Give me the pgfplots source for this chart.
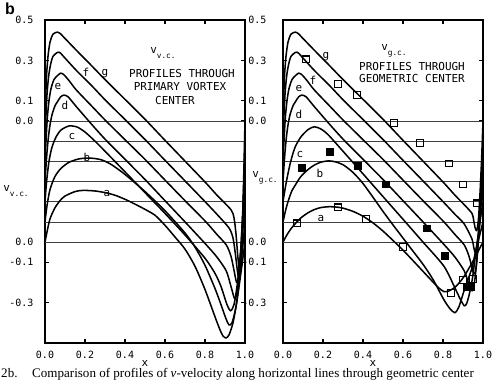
\documentclass[border=0pt]{standalone}
\usepackage{pgfplots}
\pgfplotsset{compat=1.18}
\usepackage{pgfplotstable}
\usepackage{fontspec}
\setmainfont{Liberation Serif}
\newfontfamily\plotfont{DejaVu Sans Mono}
\newfontfamily\labfont{Liberation Sans}
\newcommand\sub[1]{\raisebox{-3.6pt}{\fontsize{5.6}{6}\selectfont #1}}

% ---------- left panel: profiles through primary vortex center ----------
\pgfplotstableread{
x v
0 0
0.01 0.05
0.025 0.115
0.05 0.17
0.075 0.205
0.1 0.228
0.15 0.25
0.19 0.256
0.25 0.253
0.3 0.245
0.35 0.232
0.4 0.212
0.45 0.188
0.5 0.162
0.55 0.133
0.6 0.083
0.65 0.025
0.7 -0.035
0.75 -0.12
0.8 -0.235
0.85 -0.37
0.875 -0.435
0.89 -0.465
0.905 -0.475
0.92 -0.46
0.94 -0.4
0.96 -0.29
0.98 -0.15
1 0
}\LA
\pgfplotstableread{
x v
0 0
0.01 0.08
0.025 0.16
0.05 0.225
0.08 0.265
0.12 0.295
0.17 0.312
0.225 0.316
0.28 0.308
0.33 0.285
0.4 0.235
0.5 0.15
0.6 0.055
0.7 -0.055
0.75 -0.125
0.8 -0.215
0.85 -0.33
0.88 -0.41
0.905 -0.48
0.92 -0.51
0.935 -0.5
0.955 -0.42
0.975 -0.26
0.99 -0.11
1 0
}\LB
\pgfplotstableread{
x v
0 0
0.008 0.1
0.02 0.2
0.035 0.27
0.055 0.32
0.08 0.355
0.12 0.375
0.16 0.37
0.2 0.345
0.25 0.3
0.3 0.25
0.4 0.148
0.5 0.045
0.6 -0.058
0.7 -0.165
0.8 -0.28
0.85 -0.355
0.88 -0.42
0.91 -0.51
0.928 -0.54
0.945 -0.51
0.96 -0.42
0.975 -0.29
0.99 -0.13
1 0
}\LC
\pgfplotstableread{
x v
0 0
0.008 0.12
0.016 0.21
0.025 0.28
0.035 0.33
0.05 0.375
0.0625 0.3956
0.0781 0.4191
0.0938 0.4277
0.115 0.42
0.1563 0.3712
0.2344 0.2819
0.3 0.21
0.4 0.11
0.5 0.01
0.6 -0.095
0.7 -0.2
0.8047 -0.3118
0.8594 -0.374
0.9063 -0.443
0.93 -0.52
0.948 -0.58
0.96 -0.55
0.97 -0.46
0.98 -0.32
0.99 -0.16
1 0
}\LD
\pgfplotstableread{
x v
0 0
0.006 0.12
0.012 0.22
0.02 0.3
0.03 0.36
0.045 0.405
0.0625 0.4245
0.0781 0.4365
0.0938 0.4295
0.12 0.4
0.1563 0.3537
0.2344 0.2728
0.3 0.205
0.4 0.107
0.5 0.0095
0.6 -0.093
0.7 -0.195
0.8047 -0.3002
0.8594 -0.3621
0.9063 -0.414
0.93 -0.47
0.945 -0.54
0.958 -0.6
0.968 -0.58
0.98 -0.42
0.99 -0.22
1 0
}\LE
\pgfplotstableread{
x v
0 0
0.005 0.13
0.01 0.23
0.018 0.32
0.028 0.38
0.04 0.42
0.0625 0.4398
0.0703 0.4403
0.0781 0.4356
0.0938 0.4182
0.1563 0.3506
0.2344 0.2735
0.3 0.205
0.4 0.107
0.5 0.0082
0.6 -0.095
0.7 -0.197
0.8047 -0.3045
0.8594 -0.3621
0.92 -0.43
0.94 -0.48
0.952 -0.56
0.963 -0.65
0.972 -0.68
0.983 -0.52
0.992 -0.28
1 0
}\LF
\pgfplotstableread{
x v
0 0
0.004 0.13
0.008 0.23
0.015 0.32
0.025 0.39
0.04 0.43
0.0625 0.4398
0.0781 0.4312
0.0938 0.4149
0.1563 0.3507
0.2344 0.2722
0.3 0.205
0.4 0.107
0.5 0.0083
0.6 -0.096
0.7 -0.199
0.8047 -0.3072
0.8594 -0.3674
0.93 -0.44
0.945 -0.48
0.955 -0.56
0.965 -0.68
0.975 -0.75
0.985 -0.6
0.993 -0.3
1 0
}\LG

% ---------- right panel: profiles through geometric center ----------
\pgfplotstableread{
x v
0 0
0.02 0.036
0.04 0.066
0.0625 0.0923
0.0781 0.1089
0.0938 0.1232
0.125 0.145
0.1563 0.1608
0.19 0.171
0.2344 0.1753
0.27 0.173
0.3 0.168
0.35 0.152
0.4 0.128
0.45 0.095
0.5 0.0545
0.55 0.008
0.6 -0.04
0.65 -0.092
0.7 -0.145
0.75 -0.198
0.78 -0.228
0.8047 -0.2453
0.83 -0.242
0.8594 -0.2245
0.88 -0.203
0.9063 -0.1691
0.9453 -0.1031
0.9688 -0.0591
1 0
}\RA
\pgfplotstableread{
x v
0 0
0.015 0.065
0.03 0.115
0.045 0.155
0.0625 0.1836
0.0781 0.2092
0.0938 0.2297
0.125 0.259
0.1563 0.2812
0.19 0.296
0.2266 0.302
0.26 0.298
0.3 0.283
0.35 0.245
0.4 0.19
0.45 0.122
0.5 0.0519
0.55 -0.015
0.6 -0.08
0.65 -0.145
0.7 -0.21
0.75 -0.285
0.8047 -0.386
0.835 -0.43
0.8594 -0.4499
0.88 -0.42
0.9063 -0.338
0.9453 -0.2285
0.9531 -0.1925
0.9609 -0.1566
0.9688 -0.1215
0.985 -0.06
1 0
}\RB
\pgfplotstableread{
x v
0 0
0.01 0.06
0.02 0.115
0.035 0.185
0.05 0.24
0.0625 0.2749
0.0781 0.3035
0.0938 0.3263
0.125 0.357
0.1563 0.371
0.19 0.36
0.2266 0.3308
0.3 0.25
0.4 0.138
0.5 0.0253
0.6 -0.087
0.7 -0.2
0.8047 -0.3197
0.8594 -0.4267
0.885 -0.48
0.9063 -0.5155
0.918 -0.505
0.93 -0.465
0.9453 -0.3919
0.9531 -0.3371
0.9609 -0.2767
0.9688 -0.2139
0.985 -0.1
1 0
}\RC
\pgfplotstableread{
x v
0 0
0.008 0.12
0.016 0.21
0.025 0.28
0.035 0.33
0.05 0.375
0.0625 0.3956
0.0781 0.4191
0.0938 0.4277
0.115 0.42
0.1563 0.3712
0.2344 0.2819
0.3 0.21
0.4 0.11
0.5 0.01
0.6 -0.095
0.7 -0.2
0.8047 -0.3118
0.8594 -0.374
0.9063 -0.4431
0.93 -0.51
0.9453 -0.5405
0.9531 -0.5236
0.9609 -0.4743
0.9688 -0.3902
0.98 -0.25
0.99 -0.12
1 0
}\TD
\pgfplotstableread{
x v
0 0
0.006 0.12
0.012 0.22
0.02 0.3
0.03 0.36
0.045 0.405
0.0625 0.4245
0.0781 0.4365
0.0938 0.4295
0.12 0.4
0.1563 0.3537
0.2344 0.2728
0.3 0.205
0.4 0.107
0.5 0.0095
0.6 -0.093
0.7 -0.195
0.8047 -0.3002
0.8594 -0.3621
0.9063 -0.4144
0.93 -0.47
0.9453 -0.5288
0.9531 -0.5541
0.9609 -0.5507
0.9688 -0.4977
0.98 -0.35
0.99 -0.18
1 0
}\TE
\pgfplotstableread{
x v
0 0
0.005 0.13
0.01 0.23
0.018 0.32
0.028 0.38
0.04 0.42
0.0625 0.4398
0.0703 0.4403
0.0781 0.4356
0.0938 0.4182
0.1563 0.3506
0.2344 0.2735
0.3 0.205
0.4 0.107
0.5 0.0082
0.6 -0.095
0.7 -0.197
0.8047 -0.3045
0.8594 -0.3621
0.9063 -0.4105
0.9453 -0.4859
0.9531 -0.5235
0.9609 -0.5522
0.9688 -0.5386
0.978 -0.45
0.988 -0.28
1 0
}\TF
\pgfplotstableread{
x v
0 0
0.004 0.13
0.008 0.23
0.015 0.32
0.025 0.39
0.04 0.43
0.0625 0.4398
0.0781 0.4312
0.0938 0.4149
0.1563 0.3507
0.2344 0.2722
0.3 0.205
0.4 0.107
0.5 0.0083
0.6 -0.096
0.7 -0.199
0.8047 -0.3072
0.8594 -0.3674
0.9063 -0.415
0.9453 -0.4586
0.9531 -0.491
0.9609 -0.5299
0.9688 -0.543
0.977 -0.49
0.985 -0.36
0.993 -0.19
1 0
}\TG

% comparison data (plot coordinates of the right panel)
\pgfplotstableread{
x y
0.07 0.093
0.275 0.172
0.415 0.113
0.6 -0.025
0.84 -0.251
0.9 -0.187
0.95 -0.182
0.115 0.905
0.275 0.782
0.37 0.728
0.555 0.59
0.685 0.492
0.83 0.389
0.9 0.285
0.97 0.192
}\OpenSq
\pgfplotstableread{
x y
0.095 0.369
0.235 0.448
0.375 0.379
0.515 0.287
0.72 0.069
0.81 -0.067
0.92 -0.221
0.94 -0.221
}\FillSq

\pgfplotsset{
  panel/.style={
    scale only axis, width=144pt, height=232.56pt,
    xmin=0, xmax=1, ymin=-0.5, ymax=1.1,
    clip=false,
    axis line style={line width=1pt},
    tick align=inside, major tick length=3pt,
    tick style={line width=0.8pt, black},
    xtick={0,0.2,0.4,0.6,0.8,1},
    xticklabels={0.0,0.2,0.4,0.6,0.8,1.0},
    ytick={-0.3,-0.1,0,0.6,0.7,0.9,1.1},
    yticklabels={-0.3,-0.1,0.0,0.0,0.1,0.3,0.5},
    tick label style={font=\plotfont\fontsize{7.2}{8}\selectfont},
    xticklabel style={yshift=-2pt},
  },
  curve/.style={black, line width=1.1pt, smooth, tension=0.45, no marks},
  base/.style={black!75, line width=0.5pt, no marks},
}
\tikzset{lab/.style={font=\plotfont\fontsize{7.9}{9}\selectfont, inner sep=0pt}}

\begin{document}
\begin{tikzpicture}
\path[use as bounding box] (-32.4pt,-26.64pt) rectangle (327.6pt,246.96pt);

% ===================== left panel =====================
\begin{axis}[panel, at={(0,0)}, anchor=south west,
  yticklabel style={xshift=-4.8pt}]
\pgfplotsinvokeforeach{0,0.1,0.2,0.3,0.4,0.5,0.6}{
  \addplot[base] coordinates {(0,#1) (1,#1)};
}
\addplot[curve] table[x=x, y expr=\thisrow{v}] {\LA};
\addplot[curve] table[x=x, y expr=\thisrow{v}+0.1] {\LB};
\addplot[curve] table[x=x, y expr=\thisrow{v}+0.2] {\LC};
\addplot[curve] table[x=x, y expr=\thisrow{v}+0.3] {\LD};
\addplot[curve] table[x=x, y expr=\thisrow{v}+0.4] {\LE};
\addplot[curve] table[x=x, y expr=\thisrow{v}+0.5] {\LF};
\addplot[curve] table[x=x, y expr=\thisrow{v}+0.6] {\LG};
\node[lab] at (axis cs:0.30,0.832) {g};
\node[lab] at (axis cs:0.205,0.842) {f};
\node[lab] at (axis cs:0.065,0.772) {e};
\node[lab] at (axis cs:0.10,0.678) {d};
\node[lab] at (axis cs:0.135,0.525) {c};
\node[lab] at (axis cs:0.21,0.42) {b};
\node[lab] at (axis cs:0.31,0.243) {a};
\node[lab, anchor=base west] at (axis cs:0.525,0.935) {v\sub{v.c.}};
\node[lab] at (axis cs:0.685,0.837) {PROFILES THROUGH};
\node[lab] at (axis cs:0.675,0.772) {PRIMARY VORTEX};
\node[lab] at (axis cs:0.65,0.703) {CENTER};
\node[lab, anchor=base west] at (axis cs:0,0.25) [xshift=-30.2pt] {v\sub{v.c.}};
\node[lab] at (axis description cs:0.5,0) [yshift=-14.6pt] {x};
\end{axis}

% ===================== right panel =====================
\begin{axis}[panel, at={(171.36pt,0)}, anchor=south west,
  yticklabel style={xshift=-8.4pt}]
\pgfplotsinvokeforeach{0,0.1,0.2,0.3,0.4,0.5,0.6}{
  \addplot[base] coordinates {(0,#1) (1,#1)};
}
\addplot[curve] table[x=x, y expr=\thisrow{v}] {\RA};
\addplot[curve] table[x=x, y expr=\thisrow{v}+0.1] {\RB};
\addplot[curve] table[x=x, y expr=\thisrow{v}+0.2] {\RC};
\addplot[curve] table[x=x, y expr=\thisrow{v}+0.3] {\TD};
\addplot[curve] table[x=x, y expr=\thisrow{v}+0.4] {\TE};
\addplot[curve] table[x=x, y expr=\thisrow{v}+0.5] {\TF};
\addplot[curve] table[x=x, y expr=\thisrow{v}+0.6] {\TG};
\addplot[only marks, mark=square, mark size=2.4pt, mark options={fill=white, line width=0.8pt}] table[x=x, y=y] {\OpenSq};
\addplot[only marks, mark=square*, mark size=2.4pt, mark options={fill=black}] table[x=x, y=y] {\FillSq};
\node[lab] at (axis cs:0.215,0.921) {g};
\node[lab] at (axis cs:0.15,0.80) {f};
\node[lab] at (axis cs:0.08,0.762) {e};
\node[lab] at (axis cs:0.08,0.634) {d};
\node[lab] at (axis cs:0.085,0.436) {c};
\node[lab] at (axis cs:0.185,0.342) {b};
\node[lab] at (axis cs:0.19,0.119) {a};
\node[lab, anchor=base west] at (axis cs:0.49,0.95) {v\sub{g.c.}};
\node[lab] at (axis cs:0.645,0.872) {PROFILES THROUGH};
\node[lab] at (axis cs:0.645,0.808) {GEOMETRIC CENTER};
\node[lab, anchor=base west] at (axis cs:0,0.32) [xshift=-22.3pt] {v\sub{g.c.}};
\node[lab] at (axis description cs:0.45,0) [yshift=-14.6pt] {x};
\end{axis}

% panel letter and caption
\node[font=\labfont\bfseries\fontsize{11.5}{12}\selectfont, inner sep=0pt] at (-25.2pt,240.5pt) {b};
\node[anchor=base west, inner sep=0pt, font=\fontsize{9.4}{11}\selectfont] at (-31.7pt,-24.9pt) {2b.};
\node[anchor=base west, inner sep=0pt, font=\fontsize{9.4}{11}\selectfont] at (-9.4pt,-24.9pt) {Comparison of profiles of \textit{v}-velocity along horizontal lines through geometric center};
\end{tikzpicture}
\end{document}
